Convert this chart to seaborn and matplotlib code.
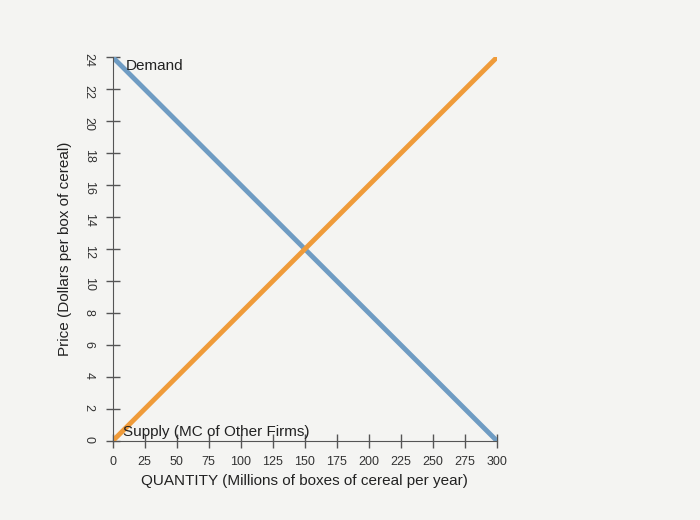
import matplotlib
matplotlib.use("Agg")
import numpy as np
import pandas as pd
import seaborn as sns
from matplotlib import pyplot as plt

quantity = [0, 300]
demand_price = [24, 0]
supply_price = [0, 24]
x_ticks = [0, 25, 50, 75, 100, 125, 150, 175, 200, 225, 250, 275, 300]
y_ticks = [0, 2, 4, 6, 8, 10, 12, 14, 16, 18, 20, 22, 24]

sns.set_style("white")
plt.rcParams['font.family'] = ['Liberation Sans', 'DejaVu Sans']

fig = plt.figure(figsize=(7, 5.2), dpi=100)
fig.patch.set_facecolor("#f4f4f2")
ax = fig.add_axes([0.161, 0.152, 0.549, 0.738])
ax.set_facecolor("#f4f4f2")

lines = pd.DataFrame({"Quantity": quantity + quantity,
                      "Price": demand_price + supply_price,
                      "Curve": ["Demand", "Demand", "Supply", "Supply"]})
sns.lineplot(data=lines, x="Quantity", y="Price", hue="Curve",
             palette={"Demand": "#6f9cc3", "Supply": "#ef9b3a"},
             linewidth=3.5, legend=False, ax=ax)

ax.set_xlim(0, 300)
ax.set_ylim(0, 24)
ax.set_xticks(x_ticks)
ax.set_yticks(y_ticks)
ax.tick_params(bottom=True, left=True, direction="inout", length=10, width=1,
               color="#555555", labelsize=9, labelcolor="#333333")
ax.tick_params(axis="y", labelrotation=-90, pad=8)
ax.tick_params(axis="x", pad=6)
for s in ["top", "right"]:
    ax.spines[s].set_visible(False)
for s in ["left", "bottom"]:
    ax.spines[s].set_color("#555555")

ax.text(10, 23.9, "Demand", fontsize=11, va="top", color="#222222")
ax.text(8, 0.3, "Supply (MC of Other Firms)", fontsize=11, color="#222222")
ax.set_xlabel("QUANTITY (Millions of boxes of cereal per year)", fontsize=11, color="#222222")
ax.set_ylabel("Price (Dollars per box of cereal)", fontsize=11, color="#222222", labelpad=8)

fig.savefig("out.png", dpi=100, facecolor=fig.get_facecolor())
